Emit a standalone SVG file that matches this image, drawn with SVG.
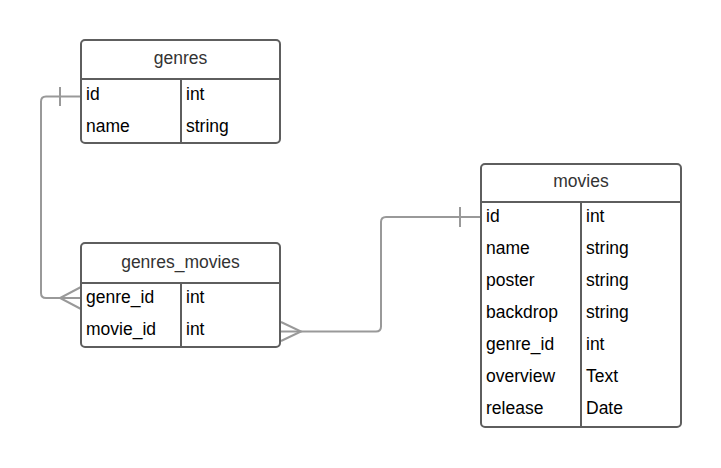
<svg xmlns="http://www.w3.org/2000/svg" width="721" height="468" viewBox="0 0 721 468">
<style>
.box{fill:#fff;stroke:#5e5e5e;stroke-width:2}
.ln{stroke:#5e5e5e;stroke-width:2;fill:none}
.hd{font-family:"Liberation Sans",Arial,sans-serif;font-size:17.5px;fill:#333;text-anchor:middle}
.tx{font-family:"Liberation Sans",Arial,sans-serif;font-size:17.5px;fill:#000}
.cn{stroke:#999;stroke-width:2;fill:none}
</style>
<rect width="721" height="468" fill="#fff"/>
<g id="connectors">
<path class="cn" d="M81,96.5 H46 Q41,96.5 41,101.5 V293 Q41,298 46,298 H81"/>
<path class="cn" d="M60,87 V106"/>
<path class="cn" d="M81,287 L60,298 L81,309"/>
<path class="cn" d="M281,331.5 H376 Q381,331.5 381,326.5 V222 Q381,217 386,217 H481"/>
<path class="cn" d="M460,207 V227"/>
<path class="cn" d="M281,322 L301,331.5 L281,341"/>
</g>
<g id="genres">
<rect class="box" x="81" y="40" width="199" height="103" rx="4"/>
<path class="ln" d="M81,79 H280 M181,79 V143"/>
<text class="hd" x="180.5" y="64">genres</text>
<text class="tx" x="86" y="100">id</text><text class="tx" x="186" y="100">int</text>
<text class="tx" x="86" y="132">name</text><text class="tx" x="186" y="132">string</text>
</g>
<g id="genres_movies">
<rect class="box" x="81" y="243" width="199" height="104" rx="4"/>
<path class="ln" d="M81,283 H280 M181,283 V347"/>
<text class="hd" x="180.5" y="268">genres_movies</text>
<text class="tx" x="86" y="303">genre_id</text><text class="tx" x="186" y="303">int</text>
<text class="tx" x="86" y="335">movie_id</text><text class="tx" x="186" y="335">int</text>
</g>
<g id="movies">
<rect class="box" x="481" y="164" width="200" height="263" rx="4"/>
<path class="ln" d="M481,202 H681 M581,202 V427"/>
<text class="hd" x="581" y="187">movies</text>
<text class="tx" x="486" y="222">id</text><text class="tx" x="586" y="222">int</text>
<text class="tx" x="486" y="254">name</text><text class="tx" x="586" y="254">string</text>
<text class="tx" x="486" y="286">poster</text><text class="tx" x="586" y="286">string</text>
<text class="tx" x="486" y="318">backdrop</text><text class="tx" x="586" y="318">string</text>
<text class="tx" x="486" y="350">genre_id</text><text class="tx" x="586" y="350">int</text>
<text class="tx" x="486" y="382">overview</text><text class="tx" x="586" y="382">Text</text>
<text class="tx" x="486" y="414">release</text><text class="tx" x="586" y="414">Date</text>
</g>
</svg>
